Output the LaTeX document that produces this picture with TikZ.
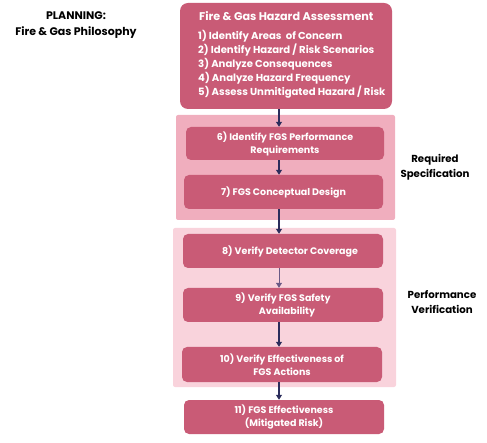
\documentclass[tikz,border=0pt]{standalone}
\usepackage{fontspec}
\setmainfont{Poppins}
\usetikzlibrary{arrows.meta}
\definecolor{boxc}{HTML}{C95B76}
\definecolor{regA}{HTML}{F0AEBE}
\definecolor{regB}{HTML}{F9D3DC}
\definecolor{arr}{HTML}{2B2D5C}
\definecolor{arrL}{HTML}{6A5A86}
\tikzset{
  x=1pt,y=-1pt,
  stepbox/.style={fill=boxc,rounded corners=5pt,text=white,font=\bfseries\fontsize{9.5}{13}\selectfont,align=center,inner sep=0pt},
  region/.style={rounded corners=2pt},
  conn/.style={draw=arr,line width=1.1pt,-{Triangle[length=5pt,width=6pt]}},
  sidelabel/.style={font=\bfseries\fontsize{10.2}{15}\selectfont,align=center,text=black},
}
\begin{document}
\begin{tikzpicture}
\useasboundingbox (0,0) rectangle (487,443);
% regions
\fill[regA,region] (176,115) rectangle (395,220);
\fill[regB,region] (173,228) rectangle (396,387);
% top box
\node[stepbox,minimum width=212pt,minimum height=106pt,rounded corners=8pt] (t) at (286,56) {};
\node[text=white,font=\bfseries\fontsize{11.2}{12}\selectfont,anchor=west,inner sep=0pt] (tt) at (199,16.5) {Fire \& Gas Hazard Assessment};
\node[text=white,font=\bfseries\fontsize{10.1}{14}\selectfont,anchor=north west,align=left,inner sep=0pt] (tl) at (198,30.5) {1) Identify Areas\ \ of Concern\\2) Identify Hazard / Risk Scenarios\\3) Analyze Consequences\\4) Analyze Hazard Frequency\\5) Assess Unmitigated Hazard / Risk};
% boxes
\node[stepbox,minimum width=198pt,minimum height=33pt] (b6) at (285,143.5) {6) Identify FGS Performance\\Requirements};
\node[stepbox,minimum width=199pt,minimum height=34pt] (b7) at (283.5,192) {7) FGS Conceptual Design};
\node[stepbox,minimum width=200pt,minimum height=34pt] (b8) at (283,251) {\hspace*{14pt}8) Verify Detector Coverage};
\node[stepbox,minimum width=200pt,minimum height=34pt] (b9) at (283,305) {9) Verify FGS Safety\\\hspace*{8pt}Availability};
\node[stepbox,minimum width=200pt,minimum height=35pt] (b10) at (282,364.5) {10) Verify Effectiveness of\\FGS Actions};
\node[stepbox,minimum width=200pt,minimum height=34pt] (b11) at (284,417) {11) FGS Effectiveness\\(Mitigated Risk)};
% arrows
\coordinate (a0) at (279,109);
\coordinate (a1) at (279,127);
\draw[conn] (t.south -| a0) -- (b6.north -| a1);
\draw[conn] (b6.south -| a0) -- (b7.north -| a1);
\draw[conn] (b7.south -| a0) -- (b8.north -| a1);
\draw[conn,draw=arrL,line width=0.8pt] (b8.south -| a0) -- (b9.north -| a1);
\draw[conn] (b9.south -| a0) -- (b10.north -| a1);
\draw[conn] (b10.south -| a0) -- (b11.north -| a1);
% side labels
\node[sidelabel,font=\bfseries\fontsize{11}{16}\selectfont] (lp) at (76,25) {PLANNING:\\Fire \& Gas Philosophy};
\node[sidelabel] (lr) at (435,167.5) {Required\\Specification};
\node[sidelabel] (lv) at (442,302.5) {Performance\\Verification};
\end{tikzpicture}
\end{document}
